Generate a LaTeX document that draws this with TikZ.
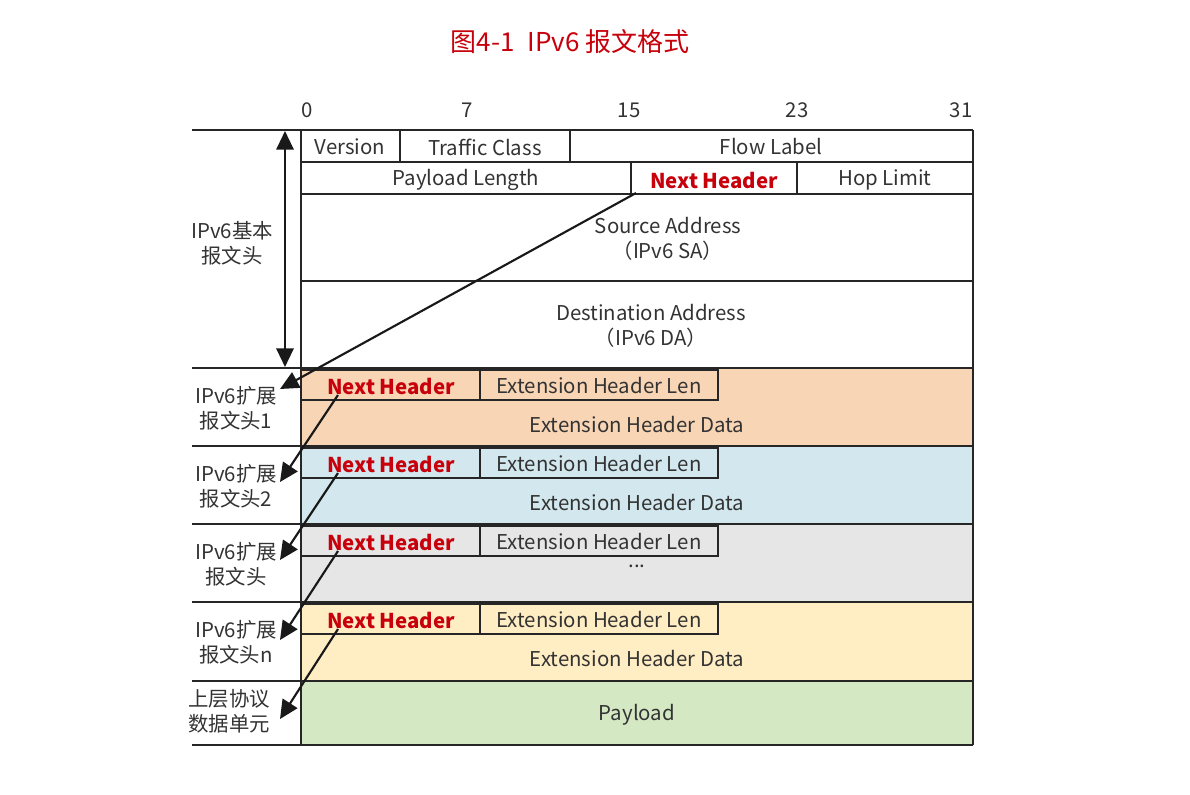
\documentclass[tikz,border=0pt]{standalone}
\usepackage{fontspec}
\setmainfont{Noto Sans CJK SC}
\usetikzlibrary{arrows.meta}
\definecolor{hred}{HTML}{C7000B}
\definecolor{tx}{HTML}{333333}
\definecolor{cor}{HTML}{F8D5B5}
\definecolor{cbl}{HTML}{D2E8EE}
\definecolor{cgr}{HTML}{E6E6E6}
\definecolor{cye}{HTML}{FFEDC4}
\definecolor{cgn}{HTML}{D5E8C4}
\begin{document}
\begin{tikzpicture}[x=0.75pt,y=-0.75pt,
  ln/.style={draw=black!85,line width=1.6pt},
  t/.style={text=tx,font=\fontsize{15.3}{16}\selectfont,inner sep=0pt},
  nh/.style={text=hred,font=\fontsize{15.3}{16}\selectfont\bfseries,inner sep=0pt},
  lb/.style={text=tx,font=\fontsize{15.3}{19}\selectfont,align=center,inner sep=0pt},
  arr/.style={draw=black!90,line width=1.6pt,-{Triangle[length=14pt,width=13pt]}}]
\useasboundingbox (0,0) rectangle (1190,794);
\node[text=hred,font=\fontsize{19.5}{20}\selectfont] (title) at (570,42) {图4-1\enspace IPv6 报文格式};
% bit labels
\foreach \x/\l in {307/0,467/7,629/15,797/23,961/31} \node[t] (b\l) at (\x,110) {\l};
% colored fills
\fill[cor] (301,368) rectangle (973,446);
\fill[cbl] (301,446) rectangle (973,524);
\fill[cgr] (301,524) rectangle (973,602);
\fill[cye] (301,602) rectangle (973,681);
\fill[cgn] (301,681) rectangle (973,745);
% main lines
\foreach \y in {130,368,446,524,602,681,745} \draw[ln] (192,\y) -- (973,\y);
\foreach \y in {162,194,281} \draw[ln] (301,\y) -- (973,\y);
\draw[ln] (301,130) -- (301,745);
\draw[ln] (973,130) -- (973,745);
\draw[ln] (400,130) -- (400,162);
\draw[ln] (570,130) -- (570,162);
\draw[ln] (631,162) -- (631,194);
\draw[ln] (797,162) -- (797,194);
% header text
\node[t] (ver) at (350,147) {Version};
\node[t] (tc) at (485,147) {Traffic Class};
\node[t] (fl) at (771,147) {Flow Label};
\node[t] (pl) at (466,180) {Payload Length};
\node[nh] (nh0) at (714,180) {Next Header};
\node[t] (hl) at (885,180) {Hop Limit};
\node[lb] (sa) at (668,239) {Source Address\\（IPv6 SA）};
\node[lb] (da) at (651,326) {Destination Address\\（IPv6 DA）};
% ext boxes
\foreach \y/\n in {368/1,446/2,524/3,602/4} {
  \draw[ln] (301,\y+2) rectangle (718,\y+32);
  \draw[ln] (480,\y+2) -- (480,\y+32);
  \node[nh] (nh\n) at (391,\y+18) {Next Header};
  \node[t] (len\n) at (599,\y+18) {Extension Header Len};
}
\node[t] (d1) at (637,425) {Extension Header Data};
\node[t] (d2) at (637,503) {Extension Header Data};
\node[t] (d3) at (637,566) {...};
\node[t] (d4) at (637,659) {Extension Header Data};
\node[t] (pay) at (637,715) {Payload};
% left labels
\node[lb] (L0) at (232,243) {IPv6基本\\报文头};
\node[lb] (L1) at (236,408) {IPv6扩展\\报文头1};
\node[lb] (L2) at (236,486) {IPv6扩展\\报文头2};
\node[lb] (L3) at (236,564) {IPv6扩展\\报文头};
\node[lb] (L4) at (236,642) {IPv6扩展\\报文头n};
\node[lb] (L5) at (229,711) {上层协议\\数据单元};
% arrows
\coordinate (vt) at (285,131); \coordinate (vb) at (285,367);
\draw[draw=black!90,line width=1.6pt,{Triangle[length=14pt,width=13pt]}-{Triangle[length=14pt,width=13pt]}] (vt) -- (vb);
\coordinate (s0) at (636,193); \coordinate (e0) at (280,389);
\coordinate (s1) at (338,395); \coordinate (e1) at (280,482);
\coordinate (s2) at (338,473); \coordinate (e2) at (280,560);
\coordinate (s3) at (338,551); \coordinate (e3) at (280,640);
\coordinate (s4) at (338,629); \coordinate (e4) at (280,719);
\foreach \i in {0,...,4} \draw[arr] (s\i) -- (e\i);
\end{tikzpicture}
\end{document}
